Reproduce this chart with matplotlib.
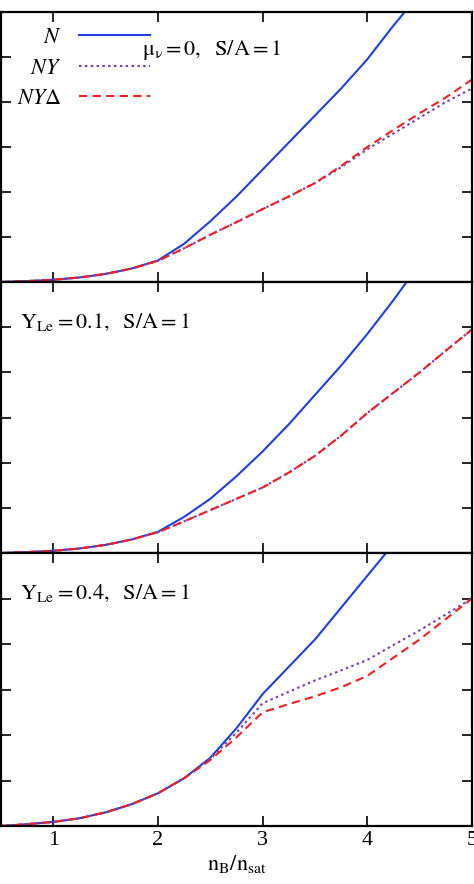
import matplotlib.pyplot as plt

plt.rcParams['font.family'] = ['Liberation Serif', 'DejaVu Serif']
plt.rcParams['mathtext.fontset'] = 'stix'

x = [0.5, 0.75, 1.0, 1.25, 1.5, 1.75, 2.0, 2.25, 2.5, 2.75, 3.0, 3.25, 3.5, 3.75, 4.0, 4.25, 4.5, 4.75, 5.0]

# panel 1: mu_nu = 0
n_top = [0.0, 0.02, 0.05, 0.1, 0.18, 0.3, 0.48, 0.85, 1.35, 1.9, 2.5, 3.1, 3.7, 4.3, 4.95, 5.7, 6.4, 7.2, 8.0]
ny_top = [0.0, 0.02, 0.05, 0.1, 0.18, 0.3, 0.47, 0.75, 1.05, 1.33, 1.62, 1.9, 2.2, 2.55, 2.95, 3.3, 3.65, 4.0, 4.3]
nyd_top = [0.0, 0.02, 0.05, 0.1, 0.18, 0.3, 0.47, 0.75, 1.05, 1.33, 1.62, 1.9, 2.2, 2.58, 3.0, 3.38, 3.75, 4.1, 4.5]

# panel 2: Y_Le = 0.1
n_mid = [0.0, 0.02, 0.05, 0.1, 0.18, 0.3, 0.47, 0.8, 1.2, 1.7, 2.25, 2.85, 3.5, 4.15, 4.85, 5.6, 6.4, 7.2, 8.0]
ny_mid = [0.0, 0.02, 0.05, 0.1, 0.18, 0.3, 0.46, 0.7, 0.95, 1.2, 1.45, 1.78, 2.15, 2.6, 3.1, 3.55, 4.0, 4.48, 4.95]
nyd_mid = [0.0, 0.02, 0.05, 0.1, 0.18, 0.3, 0.46, 0.7, 0.95, 1.2, 1.45, 1.78, 2.15, 2.6, 3.1, 3.55, 4.0, 4.48, 4.95]

# panel 3: Y_Le = 0.4
n_bot = [0.0, 0.04, 0.09, 0.17, 0.3, 0.48, 0.72, 1.05, 1.5, 2.15, 2.9, 3.5, 4.1, 4.8, 5.5, 6.2, 7.0, 7.8, 8.6]
ny_bot = [0.0, 0.04, 0.09, 0.17, 0.3, 0.48, 0.72, 1.05, 1.48, 2.05, 2.7, 2.95, 3.2, 3.42, 3.65, 3.98, 4.3, 4.65, 5.0]
nyd_bot = [0.0, 0.04, 0.09, 0.17, 0.3, 0.48, 0.72, 1.05, 1.45, 1.95, 2.5, 2.68, 2.85, 3.05, 3.3, 3.7, 4.1, 4.55, 5.0]

labels = ['$\\it{N}$', '$\\it{NY}$', '$\\it{NY}\\Delta$']
texts = ['$\\mathrm{\\mu_\\nu} = 0,\\ \\ \\mathrm{S/A} = 1$',
         '$\\mathrm{Y_{Le}} = 0.1,\\ \\ \\mathrm{S/A} = 1$',
         '$\\mathrm{Y_{Le}} = 0.4,\\ \\ \\mathrm{S/A} = 1$']
panels = [(n_top, ny_top, nyd_top), (n_mid, ny_mid, nyd_mid), (n_bot, ny_bot, nyd_bot)]

fig = plt.figure(figsize=(4.74, 8.84), dpi=100)
W, H = 474, 884
tops = [12, 282, 553]
bots = [282, 553, 826]

for i, (n, ny, nyd) in enumerate(panels):
    ax = fig.add_axes([1 / W, 1 - bots[i] / H, 471 / W, (bots[i] - tops[i]) / H])
    ax.plot(x, n, color='#1f3fe0', lw=1.5, label=labels[0])
    ax.plot(x, ny, color='#7b3fb0', lw=1.5, ls=(0, (1.2, 1.6)), label=labels[1])
    ax.plot(x, nyd, color='#f02020', lw=1.5, ls=(0, (4, 2.5)), label=labels[2])
    ax.set_xlim(0.5, 5)
    ax.set_ylim(0, 6)
    ax.set_yticks(range(0, 7))
    ax.set_xticks([1, 2, 3, 4, 5])
    ax.tick_params(direction='in', top=True, right=True, length=7, width=1.2,
                   labelleft=False, labelsize=16)
    for s in ax.spines.values():
        s.set_linewidth(1.6)
    if i < 2:
        ax.tick_params(labelbottom=False)
    if i == 0:
        ax.legend(loc='upper left', frameon=False, markerfirst=False, fontsize=16,
                  handlelength=3.2, borderaxespad=0.3, labelspacing=0.45)
        ax.text(0.3, 0.84, texts[i], transform=ax.transAxes, fontsize=16)
    else:
        ax.text(0.04, 0.83, texts[i], transform=ax.transAxes, fontsize=16)
    if i == 2:
        ax.set_xlabel('$\\mathrm{n_B/n_{sat}}$', fontsize=16, labelpad=2)

fig.savefig('out.png', dpi=100)
